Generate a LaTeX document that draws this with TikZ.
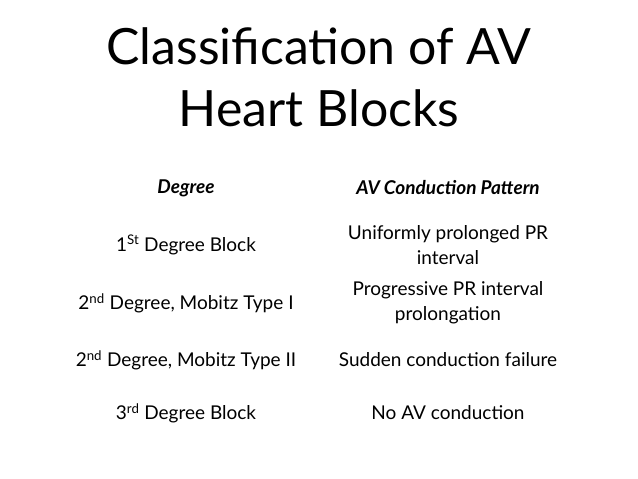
\documentclass[tikz,border=0pt]{standalone}
\usepackage{fontspec}
\setmainfont{Lato}
\begin{document}
\begin{tikzpicture}[x=1pt,y=-1pt,
  title/.style={font=\fontsize{50}{56}\selectfont},
  head/.style={font=\fontsize{19}{23}\selectfont\bfseries\itshape},
  cell/.style={font=\fontsize{19}{25}\selectfont,align=center}]
\useasboundingbox (0,0) rectangle (638,479);
\node[title] (t1) at (319,46) {Classification of AV};
\node[title] (t2) at (319,108) {Heart Blocks};
\node[head] (h1) at (186,188) {Degree};
\node[head] (h2) at (448,188) {AV Conduction Pattern};
\node[cell] (a1) at (186,245) {1\textsuperscript{St} Degree Block};
\node[cell] (b1) at (448,245) {Uniformly prolonged PR\\interval};
\node[cell] (a2) at (186,303) {2\textsuperscript{nd} Degree, Mobitz Type I};
\node[cell] (b2) at (448,303) {Progressive PR interval\\prolongation};
\node[cell] (a3) at (186,360) {2\textsuperscript{nd} Degree, Mobitz Type II};
\node[cell] (b3) at (448,360) {Sudden conduction failure};
\node[cell] (a4) at (186,413) {3\textsuperscript{rd} Degree Block};
\node[cell] (b4) at (448,413) {No AV conduction};
\end{tikzpicture}
\end{document}
